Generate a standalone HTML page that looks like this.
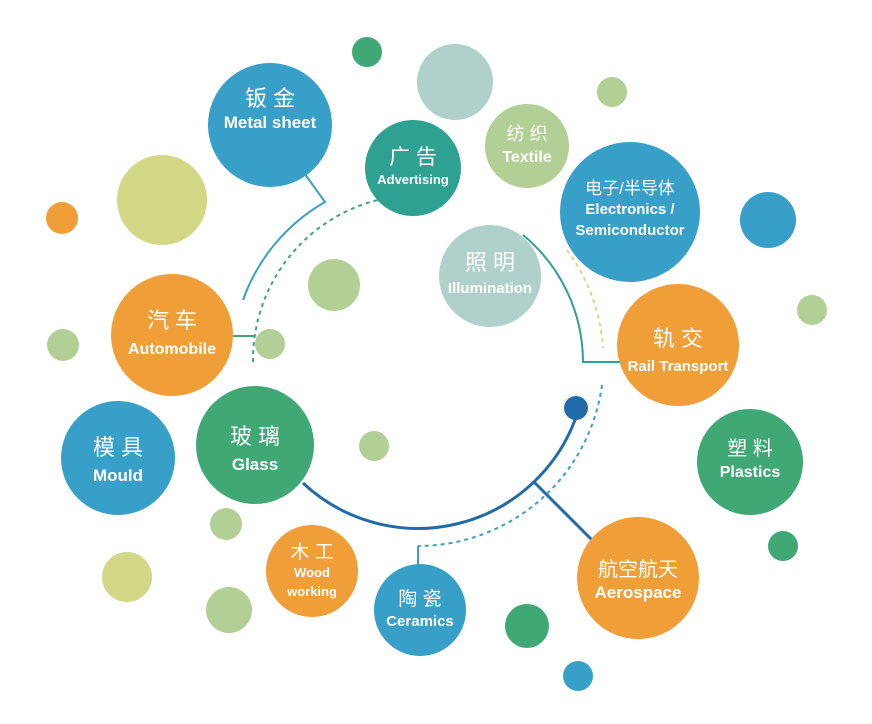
<!DOCTYPE html>
<html><head><meta charset="utf-8"><style>
html,body{margin:0;padding:0;background:#fff;}
svg{display:block;}
text{font-family:"Liberation Sans","Noto Sans CJK SC",sans-serif;fill:#fff;text-anchor:middle;}
.cn{font-weight:normal;}
.en{font-weight:bold;}
</style></head><body>
<svg width="872" height="724" viewBox="0 0 872 724" xmlns="http://www.w3.org/2000/svg">
<!-- arcs -->
<path d="M303,483 A168,168 0 0 0 575,420 L576,408" fill="none" stroke="#236aa8" stroke-width="3"/>
<line x1="534" y1="482" x2="592" y2="540" stroke="#236aa8" stroke-width="3"/>
<path d="M243,300 A184,184 0 0 1 325,202 L302,170" fill="none" stroke="#389fc8" stroke-width="2"/>
<path d="M253,362 A165,165 0 0 1 420,195" fill="none" stroke="#3fa874" stroke-width="2" stroke-dasharray="4,4"/>
<line x1="233" y1="336" x2="254" y2="336" stroke="#3fa874" stroke-width="2"/>
<path d="M523,235 A165,165 0 0 1 583,362 L620,362" fill="none" stroke="#2ea193" stroke-width="2"/>
<path d="M567,250 A185,185 0 0 1 603,348" fill="none" stroke="#e0d38a" stroke-width="2" stroke-dasharray="4,4"/>
<path d="M602,385 A186,186 0 0 1 418,546" fill="none" stroke="#389fc8" stroke-width="2" stroke-dasharray="4,4"/>
<line x1="418" y1="546" x2="418" y2="565" stroke="#389fc8" stroke-width="2"/>
<!-- decorative circles -->
<circle cx="367" cy="52" r="15" fill="#3fa874"/>
<circle cx="455" cy="82" r="38" fill="#b0d0cb"/>
<circle cx="612" cy="92" r="15" fill="#b2cf96"/>
<circle cx="768" cy="220" r="28" fill="#389fc8"/>
<circle cx="162" cy="200" r="45" fill="#d3d887"/>
<circle cx="62" cy="218" r="16" fill="#ef9e38"/>
<circle cx="334" cy="285" r="26" fill="#b2cf96"/>
<circle cx="63" cy="345" r="16" fill="#b2cf96"/>
<circle cx="270" cy="344" r="15" fill="#b2cf96"/>
<circle cx="812" cy="310" r="15" fill="#b2cf96"/>
<circle cx="576" cy="408" r="12" fill="#236aa8"/>
<circle cx="374" cy="446" r="15" fill="#b2cf96"/>
<circle cx="226" cy="524" r="16" fill="#b2cf96"/>
<circle cx="783" cy="546" r="15" fill="#3fa874"/>
<circle cx="127" cy="577" r="25" fill="#d3d887"/>
<circle cx="229" cy="610" r="23" fill="#b2cf96"/>
<circle cx="527" cy="626" r="22" fill="#3fa874"/>
<circle cx="578" cy="676" r="15" fill="#389fc8"/>
<!-- labeled circles -->
<circle cx="270" cy="125" r="62" fill="#389fc8"/>
<text x="270" y="106" font-size="22" class="cn">钣 金</text>
<text x="270" y="128" font-size="17" class="en">Metal sheet</text>

<circle cx="413" cy="168" r="48" fill="#2ea193"/>
<text x="413" y="164" font-size="21" class="cn">广 告</text>
<text x="413" y="184" font-size="13" class="en">Advertising</text>

<circle cx="527" cy="146" r="42" fill="#b2cf96"/>
<text x="527" y="140" font-size="18" class="cn">纺 织</text>
<text x="527" y="162" font-size="16" class="en">Textile</text>

<circle cx="630" cy="212" r="70" fill="#389fc8"/>
<text x="630" y="194" font-size="17" class="cn">电子/半导体</text>
<text x="630" y="214" font-size="15" class="en">Electronics /</text>
<text x="630" y="235" font-size="15" class="en">Semiconductor</text>

<circle cx="490" cy="276" r="51" fill="#b0d0cb"/>
<text x="490" y="270" font-size="22" class="cn">照 明</text>
<text x="490" y="293" font-size="15" class="en">Illumination</text>

<circle cx="172" cy="335" r="61" fill="#ef9e38"/>
<text x="172" y="328" font-size="22" class="cn">汽 车</text>
<text x="172" y="354" font-size="16" class="en">Automobile</text>

<circle cx="678" cy="345" r="61" fill="#ef9e38"/>
<text x="678" y="346" font-size="22" class="cn">轨 交</text>
<text x="678" y="371" font-size="15" class="en">Rail Transport</text>

<circle cx="118" cy="458" r="57" fill="#389fc8"/>
<text x="118" y="455" font-size="22" class="cn">模 具</text>
<text x="118" y="481" font-size="17" class="en">Mould</text>

<circle cx="255" cy="445" r="59" fill="#3fa874"/>
<text x="255" y="444" font-size="22" class="cn">玻 璃</text>
<text x="255" y="470" font-size="17" class="en">Glass</text>

<circle cx="750" cy="462" r="53" fill="#3fa874"/>
<text x="750" y="455" font-size="20" class="cn">塑 料</text>
<text x="750" y="477" font-size="16" class="en">Plastics</text>

<circle cx="312" cy="571" r="46" fill="#ef9e38"/>
<text x="312" y="558" font-size="19" class="cn">木 工</text>
<text x="312" y="577" font-size="13" class="en">Wood</text>
<text x="312" y="596" font-size="13" class="en">working</text>

<circle cx="420" cy="610" r="46" fill="#389fc8"/>
<text x="420" y="605" font-size="19" class="cn">陶 瓷</text>
<text x="420" y="626" font-size="15" class="en">Ceramics</text>

<circle cx="638" cy="578" r="61" fill="#ef9e38"/>
<text x="638" y="576" font-size="20" class="cn">航空航天</text>
<text x="638" y="598" font-size="17" class="en">Aerospace</text>
</svg>
</body></html>
